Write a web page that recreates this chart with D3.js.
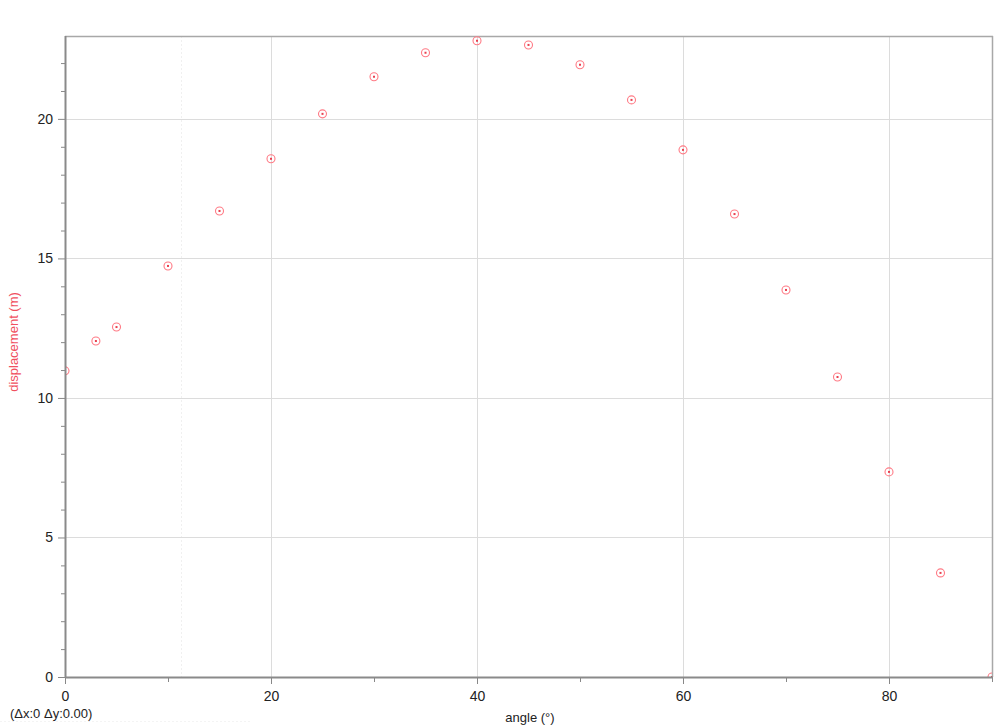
<!DOCTYPE html>
<html><head><meta charset="utf-8">
<script src="https://cdn.jsdelivr.net/npm/d3@7"></script>
<style>body{margin:0;background:#fff;font-family:"Liberation Sans",Helvetica,Arial,sans-serif;}</style>
</head><body><svg id="c" width="1000" height="727"></svg>
<script>
const angles = [0,3,5,10,15,20,25,30,35,40,45,50,55,60,65,70,75,80,85,90];
const displacement = [10.97,12.04,12.54,14.73,16.70,18.57,20.18,21.51,22.37,22.80,22.65,21.94,20.68,18.89,16.59,13.87,10.75,7.35,3.73,0];
const xMajorTicks = [0,20,40,60,80];
const yMajorTicks = [0,5,10,15,20];
const xLabel = "angle (°)";
const yLabel = "displacement (m)";
const statusText = "(Δx:0 Δy:0.00)";

const svg = d3.select("#c");
const L=65, R=992, T=36, B=677;
const x = d3.scaleLinear().domain([0,90]).range([L,R]);
const y = d3.scaleLinear().domain([0,22.97]).range([B,T]);
const FONT = "Liberation Sans, Helvetica, Arial, sans-serif";

svg.append("defs").append("clipPath").attr("id","plot")
  .append("rect").attr("x",L).attr("y",T).attr("width",R-L).attr("height",B-T);

// faint dotted cursor lines
svg.append("line").attr("x1",181.5).attr("x2",181.5).attr("y1",T).attr("y2",B)
  .attr("stroke","#f0f0f0").attr("stroke-dasharray","2,2");
svg.append("line").attr("x1",0).attr("x2",250).attr("y1",721.5).attr("y2",721.5)
  .attr("stroke","#f4f4f4").attr("stroke-dasharray","2,2");

// grid
const g = svg.append("g");
g.selectAll(".vg").data(xMajorTicks.filter(d=>d>0)).join("line")
  .attr("x1",d=>Math.round(x(d))+0.5).attr("x2",d=>Math.round(x(d))+0.5)
  .attr("y1",T).attr("y2",B).attr("stroke","#dcdcdc");
g.selectAll(".hg").data(yMajorTicks.filter(d=>d>0)).join("line")
  .attr("y1",d=>Math.round(y(d))+0.5).attr("y2",d=>Math.round(y(d))+0.5)
  .attr("x1",L).attr("x2",R).attr("stroke","#dcdcdc");

// border top/right
svg.append("line").attr("x1",L).attr("x2",R+1).attr("y1",T+0.5).attr("y2",T+0.5).attr("stroke","#a8a8a8").attr("stroke-width",1.5);
svg.append("line").attr("x1",R+0.5).attr("x2",R+0.5).attr("y1",T).attr("y2",B).attr("stroke","#a8a8a8").attr("stroke-width",1.5);

// points (clipped to plot area)
const pts = svg.append("g").attr("clip-path","url(#plot)");
const data = angles.map((a,i)=>({a, v:displacement[i]}));
pts.selectAll("circle.o").data(data).join("circle")
  .attr("cx",d=>x(d.a)).attr("cy",d=>y(d.v)).attr("r",4)
  .attr("fill","none").attr("stroke","#ff7a85").attr("stroke-width",1.1);
pts.selectAll("rect.c").data(data).join("rect")
  .attr("x",d=>x(d.a)-1).attr("y",d=>y(d.v)-1).attr("width",2).attr("height",2)
  .attr("fill","#e8404f");

// axes
const xAxis = d3.axisBottom(x).tickValues(d3.range(0,91,10)).tickSize(0).tickFormat(d=>xMajorTicks.includes(d)?d:"");
const ax = svg.append("g").attr("transform",`translate(0,${B})`).call(xAxis);
ax.select(".domain").remove();
ax.selectAll(".tick line").remove();
ax.selectAll(".tick").append("line").attr("y1",0).attr("y2",d=>xMajorTicks.includes(d)?7:5).attr("stroke","#888");
ax.selectAll("text").attr("y",14).attr("dy","0.71em").attr("font-size",14).attr("fill","#222")
  .attr("font-family",FONT);

const yAxis = d3.axisLeft(y).tickValues(d3.range(0,23,1)).tickSize(0).tickFormat(d=>yMajorTicks.includes(d)?d:"");
const ay = svg.append("g").attr("transform",`translate(${L},0)`).call(yAxis);
ay.select(".domain").remove();
ay.selectAll(".tick line").remove();
ay.selectAll(".tick").append("line").attr("x1",0).attr("x2",d=>yMajorTicks.includes(d)?-7:-4).attr("stroke","#888");
ay.selectAll("text").attr("x",-12).attr("font-size",14).attr("fill","#222")
  .attr("font-family",FONT);

svg.append("line").attr("x1",L).attr("x2",R+1).attr("y1",B+0.5).attr("y2",B+0.5).attr("stroke","#8a8a8a").attr("stroke-width",2);
svg.append("line").attr("x1",L+0.5).attr("x2",L+0.5).attr("y1",T).attr("y2",B+1).attr("stroke","#8a8a8a").attr("stroke-width",2);

// labels
svg.append("text").attr("x",530).attr("y",722).attr("text-anchor","middle")
  .attr("font-size",13).attr("fill","#222").text(xLabel);
svg.append("text").attr("transform","translate(18,342) rotate(-90)").attr("text-anchor","middle")
  .attr("font-size",13).attr("fill","#f0505f").text(yLabel);
svg.append("text").attr("x",10).attr("y",718).attr("font-size",13).attr("fill","#222").text(statusText);
</script></body></html>
